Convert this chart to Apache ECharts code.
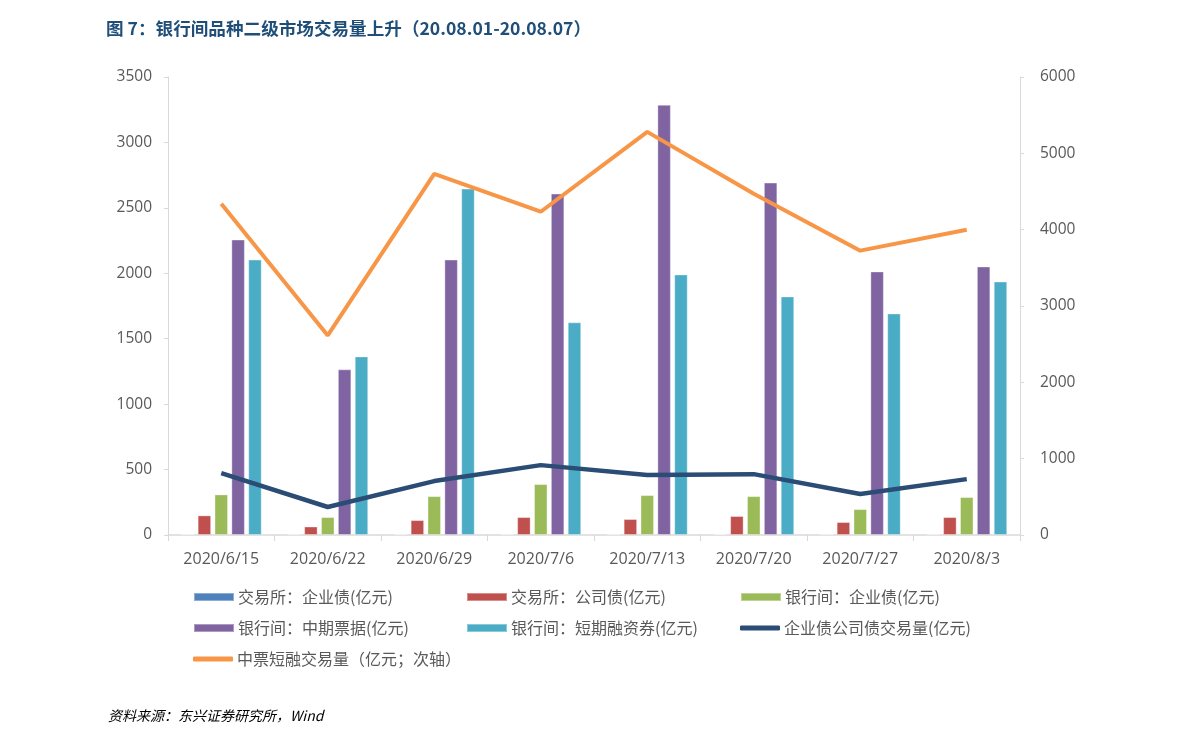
<!DOCTYPE html>
<html>
<head>
<meta charset="utf-8">
<script src="https://cdn.jsdelivr.net/npm/echarts@6/dist/echarts.min.js"></script>
<style>
  html, body { margin: 0; padding: 0; background: #fff; }
  #chart { width: 1191px; height: 740px; }
</style>
</head>
<body>
<div id="chart"></div>
<script>
const categories = ['2020/6/15', '2020/6/22', '2020/6/29', '2020/7/6', '2020/7/13', '2020/7/20', '2020/7/27', '2020/8/3'];

const exchCorp = [6, 5, 6, 5, 5, 6, 5, 5];              // 交易所：企业债
const exchCompany = [150, 65, 114, 137, 122, 145, 99, 137]; // 交易所：公司债
const ibCorp = [310, 137, 297, 389, 305, 297, 198, 290];    // 银行间：企业债
const ibMtn = [2258, 1266, 2105, 2609, 3288, 2693, 2014, 2052]; // 银行间：中期票据
const ibCp = [2105, 1365, 2647, 1625, 1991, 1823, 1693, 1937];  // 银行间：短期融资券
const corpTotal = [473, 214, 412, 534, 458, 465, 313, 427];     // 企业债公司债交易量
const mtnCpTotal = [4340, 2614, 4732, 4235, 5281, 4471, 3725, 4000]; // 中票短融交易量（次轴）

const leftTicks = { min: 0, max: 3500, interval: 500 };
const rightTicks = { min: 0, max: 6000, interval: 1000 };

const names = [
    '交易所：企业债(亿元)', '交易所：公司债(亿元)', '银行间：企业债(亿元)',
    '银行间：中期票据(亿元)', '银行间：短期融资券(亿元)', '企业债公司债交易量(亿元)',
    '中票短融交易量（亿元；次轴）'
];
const colors = ['#4F81BD', '#C0504D', '#9BBB59', '#8064A2', '#4BACC6', '#2B4C74', '#F79646'];

const font = '"Noto Sans CJK SC", "Noto Sans", sans-serif';
const numFont = '"Open Sans", "Noto Sans", sans-serif';
const chart = echarts.init(document.getElementById('chart'));

const legendPos = [
    [193, 589], [466, 589], [740, 589],
    [193, 620], [466, 620], [740, 620],
    [193, 651]
];
const legends = names.map((n, i) => ({
    data: [{ name: n, icon: i >= 5 ? 'roundRect' : 'rect' }],
    left: legendPos[i][0],
    top: legendPos[i][1],
    padding: 0,
    itemWidth: 40,
    itemHeight: i >= 5 ? 5 : 8,
    itemGap: 0,
    textStyle: { fontFamily: font, fontSize: 16, color: '#595959', padding: [0, 0, 0, -1] }
}));

const barData = [exchCorp, exchCompany, ibCorp, ibMtn, ibCp];

const series = barData.map((d, i) => ({
    name: names[i],
    type: 'bar',
    data: d,
    barCategoryGap: '24%',
    barGap: '25%',
    itemStyle: { color: colors[i], borderColor: 'rgba(255,255,255,0.35)', borderWidth: 1 }
}));
series.push({
    name: names[5],
    type: 'line',
    data: corpTotal,
    yAxisIndex: 0,
    symbol: 'none',
    lineStyle: { color: colors[5], width: 4.5 },
    itemStyle: { color: colors[5] }
});
series.push({
    name: names[6],
    type: 'line',
    data: mtnCpTotal,
    yAxisIndex: 1,
    symbol: 'none',
    lineStyle: { color: colors[6], width: 4 },
    itemStyle: { color: colors[6] }
});

chart.setOption({
    animation: false,
    backgroundColor: '#fff',
    title: [
        {
            text: '图 7：银行间品种二级市场交易量上升（20.08.01-20.08.07）',
            left: 101, top: 15,
            textStyle: { fontFamily: font, fontSize: 17.6, fontWeight: 'bold', color: '#1F4E79' }
        },
        {
            text: '资料来源：东兴证券研究所，Wind',
            left: 103, top: 704,
            textStyle: { fontFamily: font, fontSize: 14, fontStyle: 'italic', fontWeight: 'normal', color: '#000' }
        }
    ],
    legend: legends,
    grid: { left: 168, right: 171, top: 77, bottom: 205, containLabel: false },
    xAxis: {
        type: 'category',
        data: categories,
        axisLine: { lineStyle: { color: '#D9D9D9', width: 1.5 } },
        axisTick: { show: true, length: 6, lineStyle: { color: '#D9D9D9' } },
        axisLabel: { fontFamily: numFont, fontSize: 16, color: '#595959', margin: 16 }
    },
    yAxis: [
        {
            type: 'value',
            min: leftTicks.min, max: leftTicks.max, interval: leftTicks.interval,
            axisLine: { show: true, lineStyle: { color: '#D9D9D9' } },
            axisTick: { show: true, length: 4, lineStyle: { color: '#D9D9D9' } },
            splitLine: { show: false },
            axisLabel: { fontFamily: numFont, fontSize: 15.5, color: '#595959', margin: 16, formatter: v => String(v) }
        },
        {
            type: 'value',
            min: rightTicks.min, max: rightTicks.max, interval: rightTicks.interval,
            axisLine: { show: true, lineStyle: { color: '#D9D9D9' } },
            axisTick: { show: true, length: 4, lineStyle: { color: '#D9D9D9' } },
            splitLine: { show: false },
            axisLabel: { fontFamily: numFont, fontSize: 15.5, color: '#595959', margin: 20, formatter: v => String(v) }
        }
    ],
    series: series
});
</script>
</body>
</html>
